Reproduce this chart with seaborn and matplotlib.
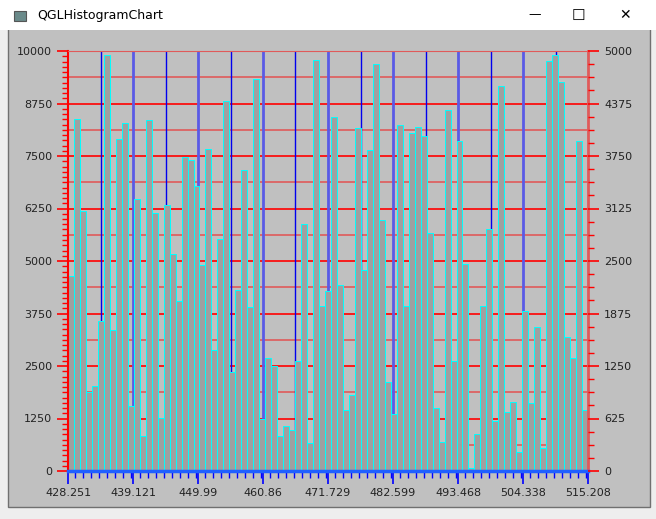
import numpy as np
import pandas as pd
import seaborn as sns
import matplotlib.pyplot as plt
from matplotlib.patches import Rectangle
from matplotlib.ticker import MultipleLocator

# bar heights (87 bins)
counts = [4640, 8380, 6180, 1890, 2030, 3560, 9900, 3350, 7900, 8280,
          1540, 6470, 830, 8360, 6140, 1260, 6330, 5170, 4040, 7470,
          7410, 6790, 4910, 7660, 2880, 5520, 8810, 2350, 4320, 7170,
          3900, 9330, 1240, 2700, 2510, 840, 1070, 970, 2610, 5880,
          670, 9790, 3940, 4280, 8430, 4420, 1460, 1800, 8170, 4790,
          7650, 9700, 5980, 2110, 1350, 8240, 3930, 8040, 8190, 7980,
          5660, 1510, 680, 8600, 2610, 7850, 4930, 60, 870, 3940,
          5760, 1180, 9170, 1400, 1640, 450, 3800, 1610, 3420, 540,
          9760, 9900, 9270, 3180, 2690, 7850, 1460]
x_min, x_max = 428.251, 515.208
x_labels = ["428.251", "439.121", "449.99", "460.86", "471.729",
            "482.599", "493.468", "504.338", "515.208"]
left_labels = [0, 1250, 2500, 3750, 5000, 6250, 7500, 8750, 10000]
right_labels = [0, 625, 1250, 1875, 2500, 3125, 3750, 4375, 5000]

edges = np.linspace(x_min, x_max, len(counts) + 1)
df = pd.DataFrame({"x": (edges[:-1] + edges[1:]) / 2, "count": counts})

W, H = 656, 519
fig = plt.figure(figsize=(6.56, 5.19), dpi=100, facecolor="#eeeeee")
# window body and title bar (behind the axes)
fig.patches.append(Rectangle((8 / W, 1 - 507 / H), 642 / W, 480 / H, transform=fig.transFigure,
                             facecolor="#c0c0c0", edgecolor="#707070", lw=1, zorder=-10))
fig.patches.append(Rectangle((0, 1 - 30 / H), 1, 30 / H, transform=fig.transFigure,
                             facecolor="white", edgecolor="none", zorder=-9))
fig.patches.append(Rectangle((14 / W, 1 - 21 / H), 12 / W, 10 / H, transform=fig.transFigure,
                             facecolor="#6a8a8a", edgecolor="#555555", lw=0.8, zorder=-8))
fig.text(37 / W, 1 - 16 / H, "QGLHistogramChart", fontsize=9, va="center")
fig.text(535 / W, 1 - 15 / H, "—", fontsize=9, va="center", ha="center")
fig.text(578 / W, 1 - 15 / H, "☐", fontsize=11, va="center", ha="center")
fig.text(625 / W, 1 - 15 / H, "✕", fontsize=10, va="center", ha="center")

ax = fig.add_axes([68 / W, 48 / H, 520 / W, 420 / H])
ax.set_facecolor("#c0c0c0")

# grid
for i, v in enumerate(np.arange(625, 10001, 625)):
    ax.axhline(v, color="red" if i % 2 else "#e05a5a", lw=1.2, zorder=0)
for i, v in enumerate(np.linspace(x_min, x_max, 17)[1:-1]):
    ax.axvline(v, color="#5a5ae6" if i % 2 else "#0000ee", lw=2 if i % 2 else 1, zorder=0)

sns.barplot(data=df, x="x", y="count", native_scale=True, width=1,
            color="#a0a0a0", edgecolor="cyan", linewidth=0.7, saturation=1, ax=ax, zorder=2)

ax.set_xlim(x_min, x_max)
ax.set_ylim(0, 10000)
ax.set_xlabel("")
ax.set_ylabel("")
ax.set_xticks(np.linspace(x_min, x_max, 9), x_labels)
ax.xaxis.set_minor_locator(MultipleLocator((x_max - x_min) / 64))
ax.set_yticks(left_labels)
ax.yaxis.set_minor_locator(MultipleLocator(125))
ax.tick_params(axis="x", colors="blue", length=9, width=1.2, labelcolor="#222222", labelsize=8)
ax.tick_params(axis="x", which="minor", colors="blue", length=5, width=1)
ax.tick_params(axis="y", colors="red", length=8, width=1.2, labelcolor="#222222", labelsize=8)
ax.tick_params(axis="y", which="minor", colors="red", length=4, width=1)
ax.spines["top"].set_color("#e05a5a")
ax.spines["left"].set_color("red")
ax.spines["left"].set_linewidth(1.5)
ax.spines["bottom"].set_color("#2060ff")
ax.spines["bottom"].set_linewidth(2.5)
ax.spines["right"].set_color("#e05a5a")
ax.spines["right"].set_linewidth(2)

ax2 = ax.twinx()
ax2.set_ylim(0, 5000)
ax2.set_yticks(right_labels)
ax2.yaxis.set_minor_locator(MultipleLocator(156.25))
ax2.tick_params(axis="y", colors="red", length=8, width=1.2, labelcolor="#222222", labelsize=8)
ax2.tick_params(axis="y", which="minor", colors="red", length=4, width=1)
for s in ax2.spines.values():
    s.set_visible(False)

fig.savefig("out.png", dpi=100, facecolor=fig.get_facecolor())
